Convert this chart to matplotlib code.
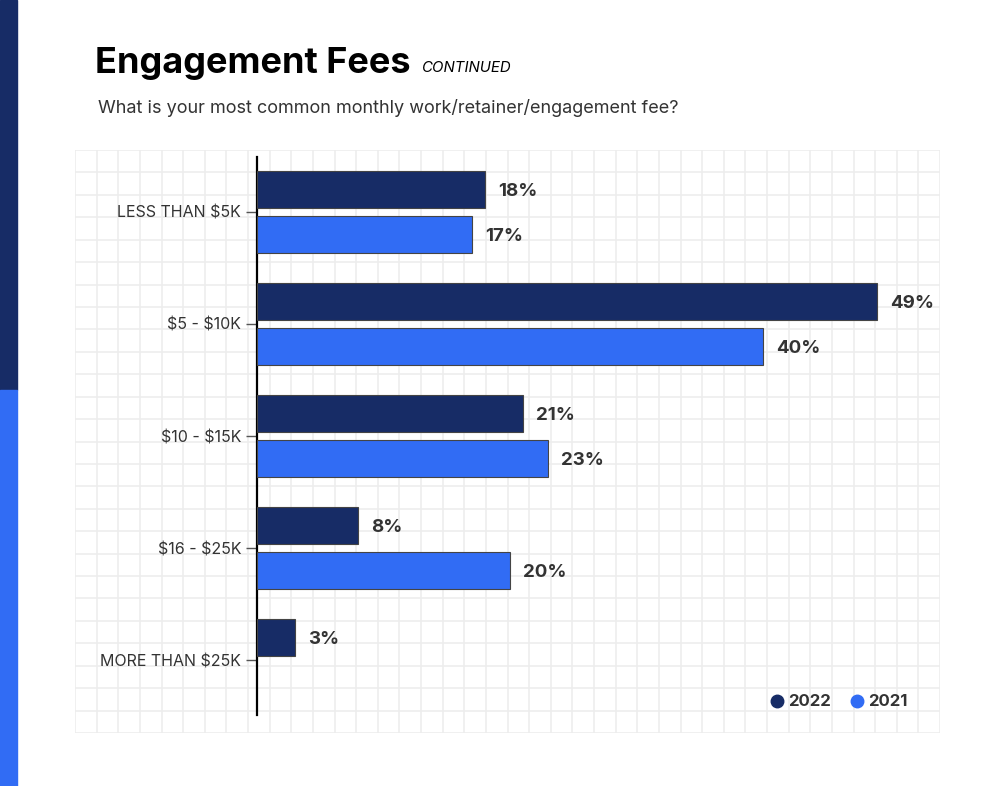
import matplotlib
matplotlib.use("Agg")
import matplotlib.pyplot as plt
import numpy as np
from matplotlib.lines import Line2D

categories = ["LESS THAN $5K", "$5 - $10K", "$10 - $15K", "$16 - $25K", "MORE THAN $25K"]
values_2022 = [18, 49, 21, 8, 3]
values_2021 = [17, 40, 23, 20, None]
series_names = ["2022", "2021"]

NAVY = "#172C66"
BLUE = "#316CF4"
TEXT = "#333333"

plt.rcParams['font.family'] = ['Inter', 'DejaVu Sans']

W, H = 1000, 786
fig = plt.figure(figsize=(W/100, H/100), dpi=100)

def fx(x): return x / W
def fy(y): return 1 - y / H

# left color strips
fig.patches.append(plt.Rectangle((0, fy(390)), fx(17), 390/H, transform=fig.transFigure, color=NAVY, zorder=0))
fig.patches.append(plt.Rectangle((0, 0), fx(17), (H-390)/H, transform=fig.transFigure, color=BLUE, zorder=0))

# background grid
bg = fig.add_axes([fx(75), fy(733), fx(940-75), (733-150)/H])
bg.set_xlim(0, 40); bg.set_ylim(0, 26)
for i in range(41):
    bg.axvline(i, color="#EDEDED", lw=1.2)
for j in range(27):
    bg.axhline(j, color="#EDEDED", lw=1.2)
bg.set_axis_off()

# main axes
x0, x1 = 257, 257 + 55 * 12.65
ax = fig.add_axes([fx(x0), fy(715), fx(x1 - x0), (715-157)/H])
ax.patch.set_alpha(0)
ax.set_xlim(0, 55)
ax.set_ylim(4.49, -0.49)

y = np.arange(len(categories))
h = 0.33
off = 0.2
ax.barh(y - off, values_2022, height=h, color=NAVY, edgecolor="#444444", linewidth=0.8, zorder=3)
mask = np.array([v is not None for v in values_2021])
ax.barh(y[mask] + off, [v for v in values_2021 if v is not None], height=h, color=BLUE,
        edgecolor="#444444", linewidth=0.8, zorder=3)

for yi, v in zip(y, values_2022):
    ax.text(v + 1.05, yi - off + 0.02, f"{v}%", va="center", ha="left", fontsize=13.5,
            fontweight="bold", color=TEXT)
for yi, v in zip(y, values_2021):
    if v is not None:
        ax.text(v + 1.05, yi + off + 0.02, f"{v}%", va="center", ha="left", fontsize=13.5,
                fontweight="bold", color=TEXT)

for s in ["top", "right", "bottom"]:
    ax.spines[s].set_visible(False)
ax.spines["left"].set_linewidth(1.6)
ax.spines["left"].set_color("black")
ax.set_xticks([])
ax.set_yticks(y)
ax.set_yticklabels([c.replace("$", r"\$") for c in categories], fontsize=11.5, color=TEXT)
ax.tick_params(axis="y", length=8, width=1, color="#555555", pad=3.5)

# titles
fig.text(fx(95), fy(73), "Engagement Fees", fontsize=26, fontweight="bold", color="black", va="baseline")
fig.text(fx(422), fy(72), "CONTINUED", fontsize=10.8, fontstyle="italic", color="black", va="baseline")
fig.text(fx(98), fy(113), "What is your most common monthly work/retainer/engagement fee?",
         fontsize=13, color=TEXT, va="baseline")

# legend
handles = [Line2D([], [], marker="o", ls="", color=NAVY, markersize=9),
           Line2D([], [], marker="o", ls="", color=BLUE, markersize=9)]
leg = fig.legend(handles, series_names, loc="center", bbox_to_anchor=(fx(834), fy(702)),
                 ncol=2, frameon=False, handletextpad=-0.35, columnspacing=0.6,
                 prop={"weight": "bold", "size": 12})
for t in leg.get_texts():
    t.set_color(TEXT)

fig.savefig("out.png", dpi=100)
